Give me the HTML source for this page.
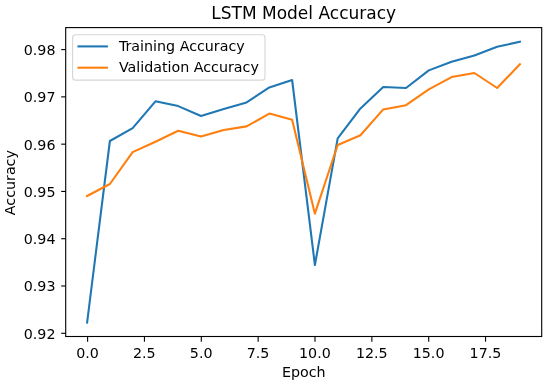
<!DOCTYPE html>
<html lang="en"><head><meta charset="utf-8"><title>LSTM Model Accuracy</title>
<style>
html,body{margin:0;padding:0;background:#fff;}
body{width:550px;height:385px;overflow:hidden;}
svg{display:block;}
text{font-family:"DejaVu Sans","Liberation Sans",sans-serif;fill:#000;}
</style></head><body>
<svg width="550" height="385" viewBox="0 0 550 385">
<rect x="0" y="0" width="550" height="385" fill="#ffffff"/>
<g fill="none" stroke-width="2.08" stroke-linejoin="round" stroke-linecap="square">
<polyline points="87.10,322.60 109.88,141.00 132.66,128.20 155.44,101.30 178.22,106.10 201.00,116.00 223.78,109.00 246.56,102.40 269.34,87.40 292.12,80.00 314.90,265.00 337.68,138.40 360.46,108.40 383.24,87.00 406.02,88.00 428.80,70.40 451.58,61.80 474.36,55.50 497.14,46.80 519.92,41.80" stroke="#1f77b4"/>
<polyline points="87.10,196.00 109.88,184.00 132.66,152.10 155.44,141.70 178.22,130.70 201.00,136.60 223.78,130.00 246.56,126.40 269.34,113.60 292.12,119.80 314.90,213.70 337.68,145.00 360.46,135.20 383.24,109.40 406.02,105.20 428.80,89.40 451.58,77.10 474.36,73.00 497.14,88.00 519.92,64.20" stroke="#ff7f0e"/>
</g>
<rect x="65.7" y="27.6" width="476.00" height="308.90" fill="none" stroke="#000" stroke-width="1.11" stroke-linejoin="miter"/>
<g stroke="#000" stroke-width="1.11">
<line x1="61.20" y1="49.60" x2="65.7" y2="49.60"/>
<line x1="61.20" y1="96.88" x2="65.7" y2="96.88"/>
<line x1="61.20" y1="144.16" x2="65.7" y2="144.16"/>
<line x1="61.20" y1="191.44" x2="65.7" y2="191.44"/>
<line x1="61.20" y1="238.72" x2="65.7" y2="238.72"/>
<line x1="61.20" y1="286.00" x2="65.7" y2="286.00"/>
<line x1="61.20" y1="333.28" x2="65.7" y2="333.28"/>
<line x1="87.60" y1="336.5" x2="87.60" y2="341.70"/>
<line x1="144.45" y1="336.5" x2="144.45" y2="341.70"/>
<line x1="201.30" y1="336.5" x2="201.30" y2="341.70"/>
<line x1="258.15" y1="336.5" x2="258.15" y2="341.70"/>
<line x1="315.00" y1="336.5" x2="315.00" y2="341.70"/>
<line x1="371.85" y1="336.5" x2="371.85" y2="341.70"/>
<line x1="428.70" y1="336.5" x2="428.70" y2="341.70"/>
<line x1="485.55" y1="336.5" x2="485.55" y2="341.70"/>
</g>
<g font-size="14.25px">
<text x="55.50" y="55.00" text-anchor="end">0.98</text>
<text x="55.50" y="102.28" text-anchor="end">0.97</text>
<text x="55.50" y="149.56" text-anchor="end">0.96</text>
<text x="55.50" y="196.84" text-anchor="end">0.95</text>
<text x="55.50" y="244.12" text-anchor="end">0.94</text>
<text x="55.50" y="291.40" text-anchor="end">0.93</text>
<text x="55.50" y="338.68" text-anchor="end">0.92</text>
<text x="87.50" y="357.50" text-anchor="middle">0.0</text>
<text x="144.35" y="357.50" text-anchor="middle">2.5</text>
<text x="201.20" y="357.50" text-anchor="middle">5.0</text>
<text x="258.05" y="357.50" text-anchor="middle">7.5</text>
<text x="314.90" y="357.50" text-anchor="middle">10.0</text>
<text x="371.75" y="357.50" text-anchor="middle">12.5</text>
<text x="428.60" y="357.50" text-anchor="middle">15.0</text>
<text x="485.45" y="357.50" text-anchor="middle">17.5</text>
<text x="303.70" y="377.4" text-anchor="middle">Epoch</text>
<text transform="translate(14.6,182.65) rotate(-90)" text-anchor="middle">Accuracy</text>
</g>
<text x="303.70" y="19.1" text-anchor="middle" font-size="17px">LSTM Model Accuracy</text>
<rect x="72.6" y="34.7" width="192.4" height="45.4" rx="2.8" ry="2.8" fill="#ffffff" fill-opacity="0.8" stroke="#cccccc" stroke-opacity="0.8" stroke-width="1.11"/>
<line x1="78.5" y1="46.4" x2="106.9" y2="46.4" stroke="#1f77b4" stroke-width="2.08" stroke-linecap="square"/>
<line x1="78.5" y1="67.7" x2="106.9" y2="67.7" stroke="#ff7f0e" stroke-width="2.08" stroke-linecap="square"/>
<text x="118.9" y="51.1" font-size="14.25px">Training Accuracy</text>
<text x="118.9" y="72.3" font-size="14.25px">Validation Accuracy</text>
</svg></body></html>
